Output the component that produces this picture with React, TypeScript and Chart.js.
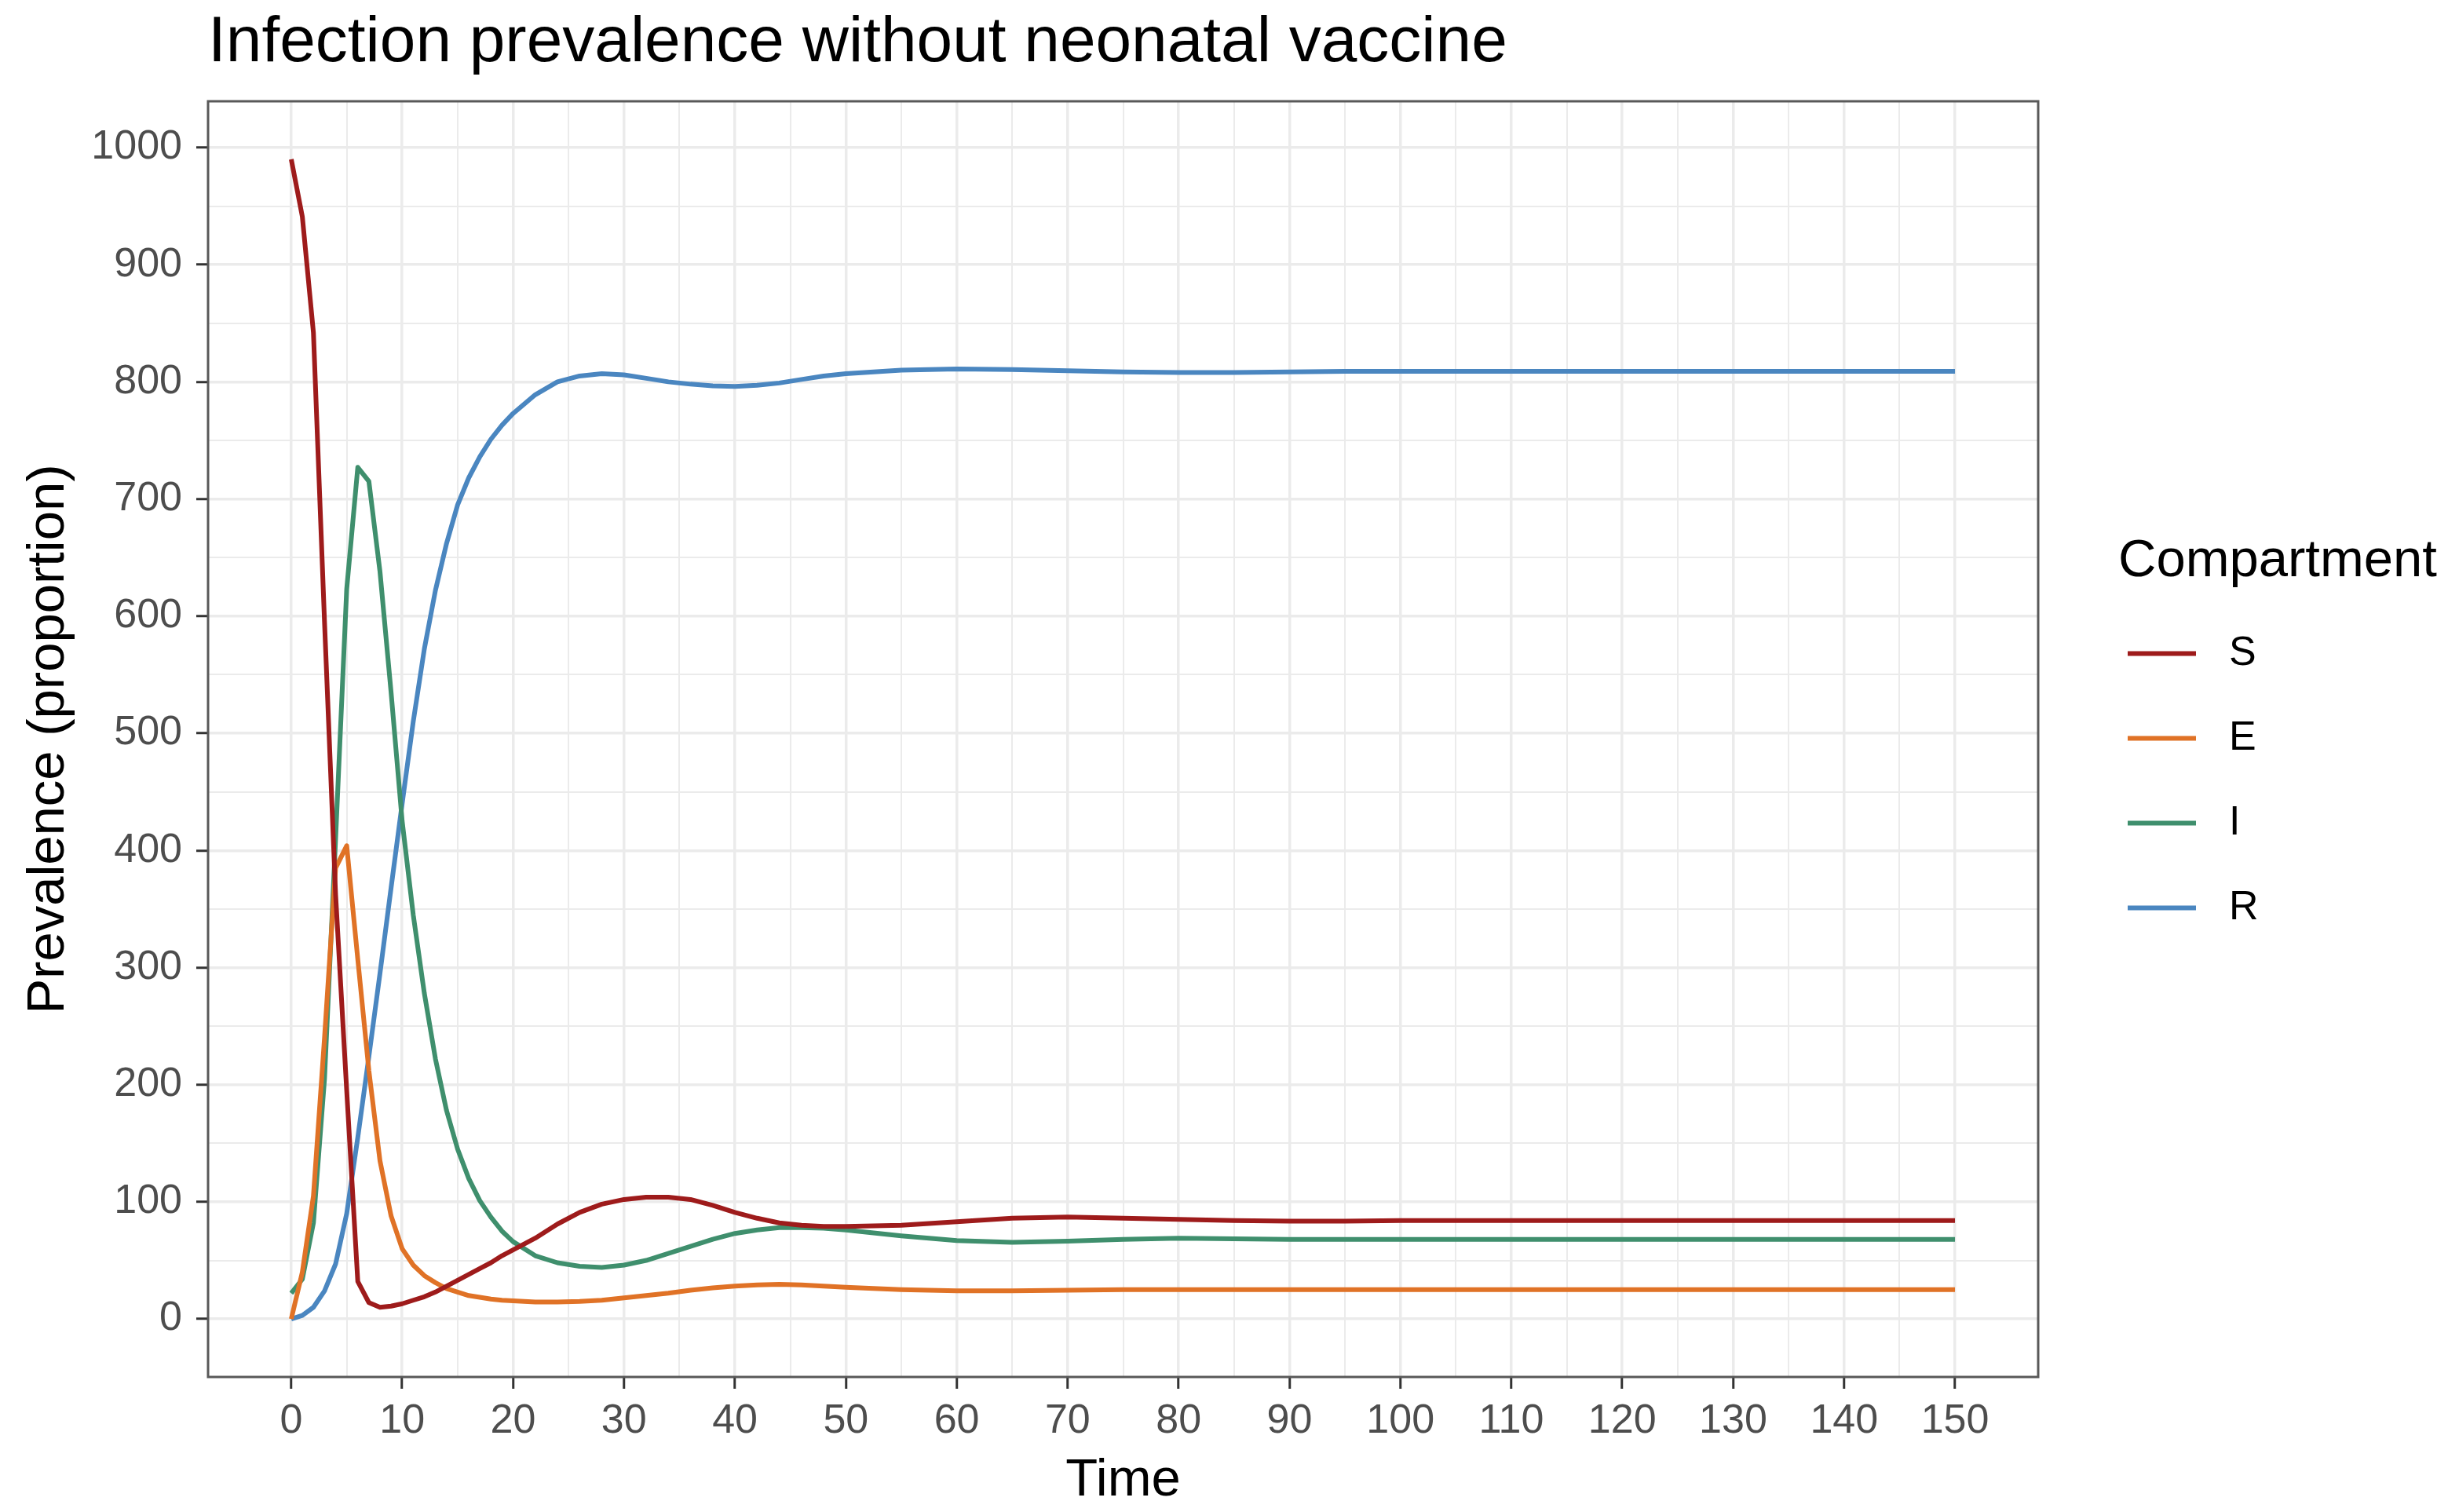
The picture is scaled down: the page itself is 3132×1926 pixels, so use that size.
import { useEffect, useRef } from "react";
import { Chart, registerables } from "chart.js";

Chart.register(...registerables);

const TITLE = "Infection prevalence without neonatal vaccine";
const X_TITLE = "Time";
const Y_TITLE = "Prevalence (proportion)";
const LEGEND_TITLE = "Compartment";

const SERIES = ["S", "E", "I", "R"];
const SERIES_COLOR = ["#9E1B1B", "#E07226", "#3F8F6D", "#4A86C0"];

// time points of the model output
const TIMES = [
  0, 1, 2, 3, 4, 5, 6, 7, 8, 9, 10, 11, 12, 13, 14, 15, 16, 17, 18, 19, 20,
  22, 24, 26, 28, 30, 32, 34, 36, 38, 40, 42, 44, 46, 48, 50,
  55, 60, 65, 70, 75, 80, 85, 90, 95, 100, 105, 110, 115, 120, 125, 130, 135, 140, 145, 150,
];

const S_VALUES = [
  990, 941, 842, 595, 362, 195, 32, 14, 10, 11, 13, 16, 19, 23, 28, 33, 38, 43, 48, 54, 59,
  69, 81, 91, 98, 102, 104, 104, 102, 97, 91, 86, 82, 80, 79, 79,
  80, 83, 86, 87, 86, 85, 84, 83.5, 83.5, 84, 84, 84, 84, 84, 84, 84, 84, 84, 84, 84,
];

const E_VALUES = [
  0, 40, 105, 240, 385, 404, 307, 212, 135, 88, 60, 46, 37, 31, 26, 23, 20, 18.5, 17, 16, 15.5,
  14.5, 14.5, 15, 16, 18, 20, 22, 24.5, 26.5, 28, 29, 29.5, 29, 28, 27,
  25, 24, 24, 24.5, 25, 25, 25, 25, 25, 25, 25, 25, 25, 25, 25, 25, 25, 25, 25, 25,
];

const I_VALUES = [
  22, 34, 82, 205, 410, 623, 727, 715, 638, 535, 425, 345, 278, 222, 178, 145, 120, 101, 87, 75, 66,
  54, 48, 45, 44, 46, 50, 56, 62, 68, 73, 76, 78, 78, 77.5, 76,
  71, 67, 65.5, 66.5, 68, 69, 68.5, 68, 68, 68, 68, 68, 68, 68, 68, 68, 68, 68, 68, 68,
];

const R_VALUES = [
  0, 3, 10, 24, 47, 90, 155, 224, 295, 368, 440, 510, 572, 622, 662, 695, 718, 736, 751, 763, 773,
  789, 800, 805, 807, 806, 803, 800, 798, 796.5, 796, 797, 799, 802, 805, 807,
  810, 811, 810.5, 809.5, 808.5, 808, 808, 808.5, 809, 809, 809, 809, 809, 809, 809, 809, 809, 809, 809, 809,
];

const X_GRID = [
  0, 5, 10, 15, 20, 25, 30, 35, 40, 45, 50, 55, 60, 65, 70, 75,
  80, 85, 90, 95, 100, 105, 110, 115, 120, 125, 130, 135, 140, 145, 150,
];
const Y_GRID = [
  0, 50, 100, 150, 200, 250, 300, 350, 400, 450, 500,
  550, 600, 650, 700, 750, 800, 850, 900, 950, 1000,
];

const FONT = "'Liberation Sans', Arial, Helvetica, sans-serif";

const ggFrame = {
  id: "ggFrame",
  afterDraw(chart: Chart) {
    const { ctx, chartArea: a } = chart;
    ctx.save();
    // panel border
    ctx.strokeStyle = "#595959";
    ctx.lineWidth = 3;
    ctx.strokeRect(a.left, a.top, a.right - a.left, a.bottom - a.top);

    // plot title, aligned with the panel
    ctx.fillStyle = "#000";
    ctx.textAlign = "left";
    ctx.textBaseline = "alphabetic";
    ctx.font = `82px ${FONT}`;
    ctx.fillText(TITLE, a.left, 70);

    // legend
    const mid = (a.top + a.bottom) / 2;
    ctx.font = `67px ${FONT}`;
    ctx.fillText(LEGEND_TITLE, a.right + 102, mid - 208);
    ctx.font = `52px ${FONT}`;
    ctx.textBaseline = "middle";
    chart.data.datasets.forEach((ds, i) => {
      const y = mid - 109 + i * 108;
      ctx.strokeStyle = ds.borderColor as string;
      ctx.lineWidth = 6;
      ctx.beginPath();
      ctx.moveTo(a.right + 114, y);
      ctx.lineTo(a.right + 201, y);
      ctx.stroke();
      ctx.fillStyle = "#000";
      ctx.fillText(ds.label ?? "", a.right + 243, y);
    });
    ctx.restore();
  },
};

export default function App() {
  const canvasRef = useRef<HTMLCanvasElement>(null);
  const chartRef = useRef<Chart | null>(null);

  useEffect(() => {
    if (!canvasRef.current) return;
    if (chartRef.current) chartRef.current.destroy();

    const values = [S_VALUES, E_VALUES, I_VALUES, R_VALUES];
    const datasets = SERIES.map((name, k) => ({
      label: name,
      data: TIMES.map((t, i) => ({ x: t, y: values[k][i] })),
      borderColor: SERIES_COLOR[k],
      backgroundColor: SERIES_COLOR[k],
      borderWidth: 6,
      pointRadius: 0,
      tension: 0,
      borderJoinStyle: "round" as const,
      fill: false,
    }));

    const majorOnly = (step: number) => (v: string | number) =>
      Number(v) % step === 0 ? String(v) : "";

    chartRef.current = new Chart(canvasRef.current, {
      type: "line",
      data: { datasets },
      plugins: [ggFrame],
      options: {
        animation: false,
        responsive: true,
        maintainAspectRatio: false,
        layout: { padding: { top: 121, right: 528, left: 0, bottom: 0 } },
        plugins: {
          legend: { display: false },
          title: { display: false },
          tooltip: { enabled: false },
        },
        scales: {
          x: {
            type: "linear",
            min: -7.5,
            max: 157.5,
            afterBuildTicks: (scale) => { scale.ticks = X_GRID.map(value => ({ value })); },
            afterFit: (scale) => { scale.height = 164; },
            border: { display: false },
            grid: {
              color: "#EBEBEB",
              lineWidth: (c) => (c.tick && c.tick.value % 10 === 0 ? 3.5 : 2),
              tickLength: 15,
              tickWidth: 3,
              tickColor: (c) => (c.tick && c.tick.value % 10 === 0 ? "#333333" : "rgba(0,0,0,0)"),
            },
            ticks: {
              autoSkip: false,
              maxRotation: 0,
              padding: 10,
              color: "#4D4D4D",
              font: { family: FONT, size: 52 },
              callback: majorOnly(10),
            },
            title: {
              display: true,
              text: X_TITLE,
              color: "#000",
              font: { family: FONT, size: 67, lineHeight: 1 },
              padding: { top: 0, bottom: -2 },
            },
          },
          y: {
            type: "linear",
            min: -49.5,
            max: 1039.5,
            afterBuildTicks: (scale) => { scale.ticks = Y_GRID.map(value => ({ value })); },
            afterFit: (scale) => { scale.width = 257; },
            border: { display: false },
            grid: {
              color: "#EBEBEB",
              lineWidth: (c) => (c.tick && c.tick.value % 100 === 0 ? 3.5 : 2),
              tickLength: 15,
              tickWidth: 3,
              tickColor: (c) => (c.tick && c.tick.value % 100 === 0 ? "#333333" : "rgba(0,0,0,0)"),
            },
            ticks: {
              autoSkip: false,
              padding: 18,
              color: "#4D4D4D",
              font: { family: FONT, size: 52 },
              callback: majorOnly(100),
            },
            title: {
              display: true,
              text: Y_TITLE,
              color: "#000",
              font: { family: FONT, size: 67, lineHeight: 1.2 },
              padding: { top: 14, bottom: 0 },
            },
          },
        },
      },
    });

    return () => { chartRef.current?.destroy(); };
  }, []);

  return (
    <div style={{ position: "relative", width: 3116, height: 1910, background: "#fff" }}>
      <canvas ref={canvasRef} />
    </div>
  );
}
